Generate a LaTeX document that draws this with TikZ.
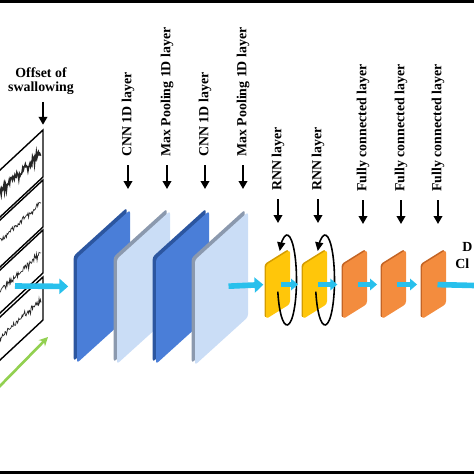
\documentclass[tikz,border=0pt]{standalone}
\usepackage{fontspec}
\setmainfont{Liberation Serif}
\usetikzlibrary{arrows.meta}
\definecolor{cnnface}{RGB}{74,126,216}
\definecolor{cnnside}{RGB}{44,86,160}
\definecolor{poolface}{RGB}{202,221,246}
\definecolor{poolside}{RGB}{139,153,174}
\definecolor{rnnface}{RGB}{255,198,10}
\definecolor{rnnside}{RGB}{212,156,0}
\definecolor{fcface}{RGB}{243,140,62}
\definecolor{fcside}{RGB}{196,100,36}
\definecolor{flowcyan}{RGB}{40,192,236}
\definecolor{timegreen}{RGB}{146,208,80}
% one layer sheet: name, left x, top-left y, width, rise, height, face, side
\newcommand{\slab}[8]{%
  \fill[#8, rounded corners=1.5pt] ({#2-#4/16},{#3-#4/25}) -- ++(#4,-#5) -- ++(0,#6) -- ++(-#4,#5) -- cycle;
  \fill[#7, rounded corners=1.5pt] (#2,#3) -- ++(#4,-#5) -- ++(0,#6) -- ++(-#4,#5) -- cycle;
  \coordinate (#1) at ({#2+#4/2},{#3+(#6-#5)/2});
  \coordinate (#1-w) at (#2,{#3+(#6-#5)/2});
}
\begin{document}
\begin{tikzpicture}[yscale=-1, x=0.02cm, y=0.02cm,
    sheet/.style={fill=white, draw=black, line width=0.8pt},
    downarr/.style={line width=1.3pt, -{Triangle[length=4.5pt,width=4.8pt]}},
    flow/.style={flowcyan, line width=3.2pt, -{Triangle[length=5pt,width=8.5pt]}},
    smallflow/.style={flowcyan, line width=2.6pt, -{Triangle[length=4pt,width=6.5pt]}},
    recur/.style={line width=0.9pt, -{Triangle[length=5pt,width=4.5pt]}},
    lbl/.style={rotate=90, anchor=west, inner sep=0pt, font=\bfseries\fontsize{7.9}{9}\selectfont},
    txt/.style={inner sep=0pt, font=\bfseries\fontsize{7.9}{9}\selectfont}]
    \useasboundingbox (0,0) rectangle (474,474);
    \clip (0,0) rectangle (474,474);
    % frame bars
    \fill[black] (0,0) rectangle (474,3);
    \fill[black] (0,470.5) rectangle (474,474);

    % input signal sheets
    \pgfmathsetseed{11}
    \foreach \t/\b/\w/\a in {130/177/0.9/3.5, 180/227/0.4/2, 230/273/0.4/2.2, 277/320/0.4/2} {
        \draw[sheet] (43,\t) -- (43,\b) -- (-30,\b+68) -- (-30,\t+68) -- cycle;
        \draw[line width=\w pt, black!85] plot[domain=-4:41, samples=70]
            (\x, {\t+21+0.93*(43-\x)+\a*rand+2.5*\a*rand*rand*rand});
    }
    % offset label
    \node[txt, align=center] (offset) at (41,81) {Offset of\\[-1pt]swallowing};
    \draw[downarr] ([shift={(2,7)}]offset.south) -- ++(0,23);
    % time axis
    \coordinate (tA) at (-2,388);
    \coordinate (tB) at (48,337);
    \draw[timegreen, line width=1.5pt, -{Stealth[length=5pt,width=5pt]}] (tA) -- (tB);

    % convolution and pooling sheets
    \slab{cnnA}{77}{258}{53}{48}{105}{cnnface}{cnnside}
    \slab{poolA}{117}{259}{53}{48}{105}{poolface}{poolside}
    \slab{cnnB}{156}{259}{53}{48}{105}{cnnface}{cnnside}
    \slab{poolB}{195}{260}{53}{48}{105}{poolface}{poolside}
    % input arrow
    \coordinate (sig) at (15,286);
    \draw[flow, shorten >=5pt] (sig) -- (cnnA-w);

    % recurrent and dense sheets
    \slab{rnnA}{266}{265}{24}{15}{54}{rnnface}{rnnside}
    \slab{rnnB}{303}{265}{24}{15}{54}{rnnface}{rnnside}
    \slab{fcA}{343}{265}{24}{15}{54}{fcface}{fcside}
    \slab{fcB}{382}{265}{24}{15}{54}{fcface}{fcside}
    \slab{fcC}{422}{265}{24}{15}{54}{fcface}{fcside}
    \draw[flow, shorten <=4pt, shorten >=1.5pt] ([shift={(0,-2)}]poolB) -- (rnnA-w);

    % recurrent loops
    \coordinate (rnnA-loop) at (287,280);
    \coordinate (rnnB-loop) at (325,280);
    \foreach \n in {rnnA-loop, rnnB-loop} {
        \draw[recur] ([shift={(165:9.5 and 45)}]\n) arc[start angle=165, end angle=-140, x radius=9.5, y radius=45];
    }
    % flow between sheets
    \draw[smallflow, shorten <=1.7pt, shorten >=2.8pt] (rnnA) -- (rnnB-w);
    \draw[smallflow, shorten <=1.7pt, shorten >=3.2pt] (rnnB) -- (fcA-w);
    \draw[smallflow, shorten <=1.7pt, shorten >=2.8pt] (fcA) -- (fcB-w);
    \draw[smallflow, shorten <=1.7pt, shorten >=2.8pt] (fcB) -- (fcC-w);
    \coordinate (out) at (495,286);
    \draw[flow, shorten <=2pt] (fcC) -- (out);

    % layer labels
    \foreach \n/\x/\y/\lab in {cA/128/157/CNN 1D layer, pA/167/157/Max Pooling 1D layer,
        cB/205/157/CNN 1D layer, pB/243/157/Max Pooling 1D layer,
        rA/278/191/RNN layer, rB/318/191/RNN layer,
        fA/363/192/Fully connected layer, fB/401/192/Fully connected layer,
        fC/438/192/Fully connected layer} {
        \node[lbl] (\n) at (\x,\y) {\lab};
        \draw[downarr] ([shift={(0,8)}]\n.west) -- ++(0,24);
    }
    % output label
    \node[txt, anchor=west] (clsA) at (462,247) {D};
    \node[txt, anchor=west] (clsB) at (455,264) {Cl};
\end{tikzpicture}
\end{document}
